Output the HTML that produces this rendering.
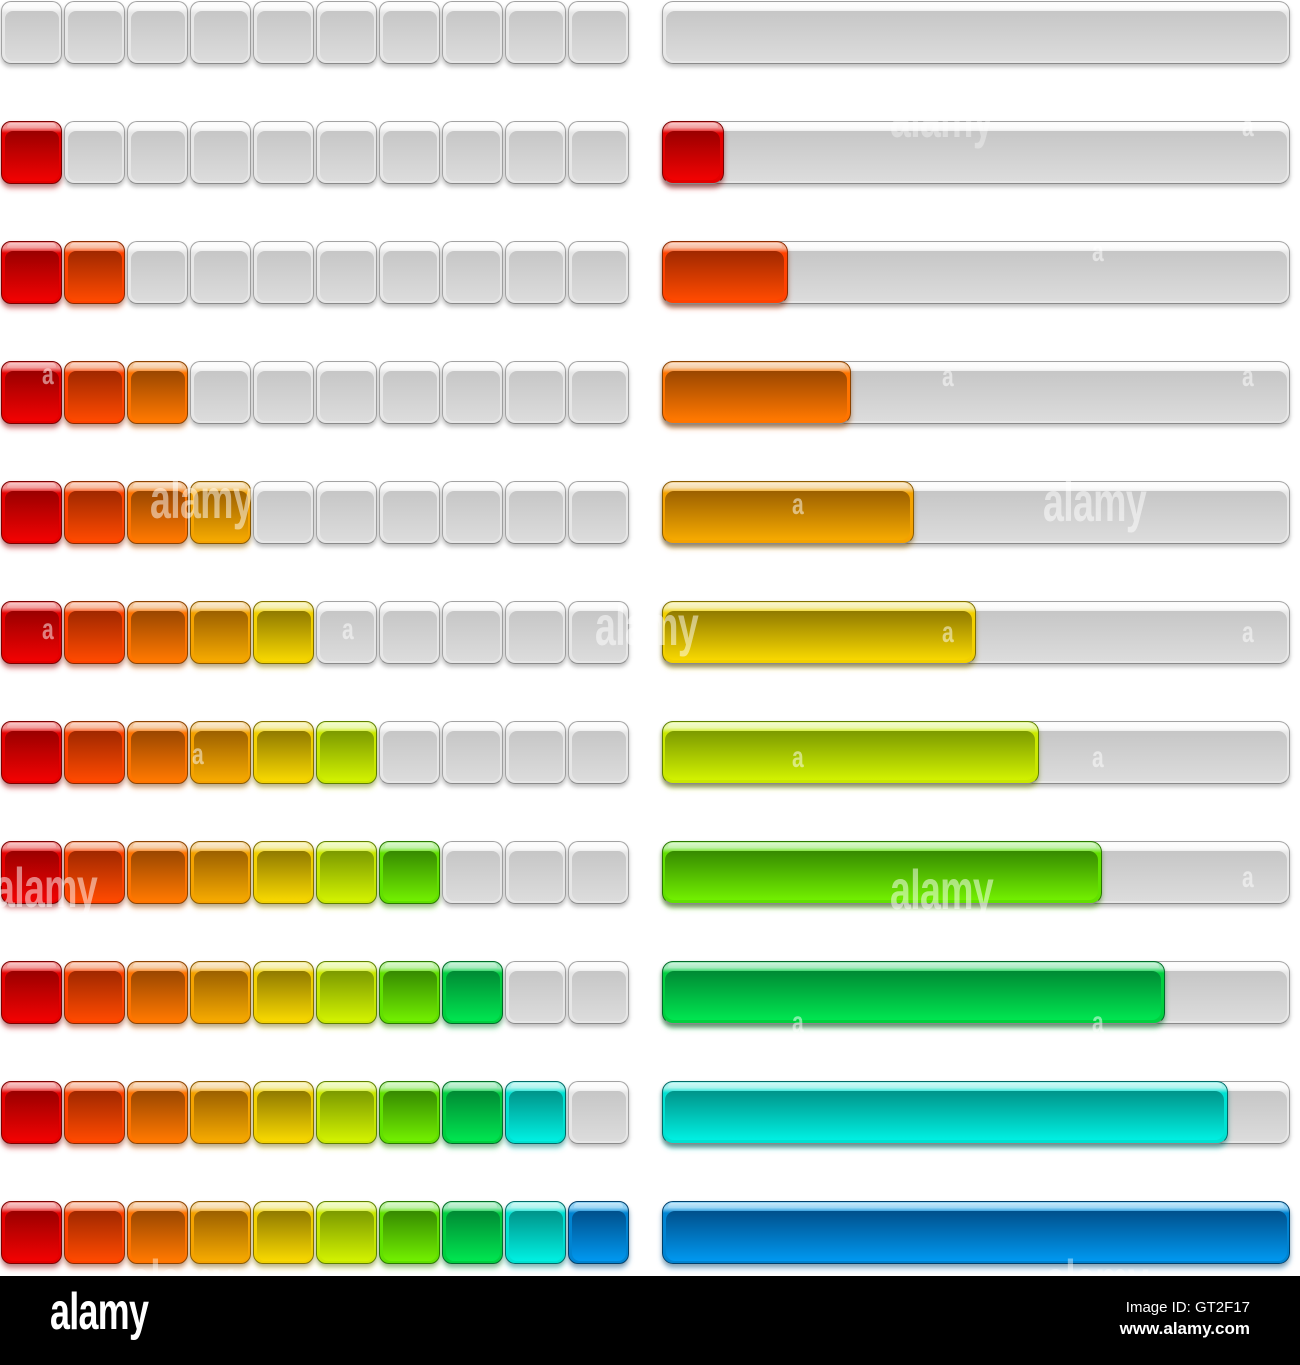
<!DOCTYPE html>
<html><head><meta charset="utf-8">
<style>
html,body{margin:0;padding:0}
body{width:1300px;height:1365px;background:#fff;position:relative;overflow:hidden;font-family:"Liberation Sans",sans-serif}
.row{position:absolute;left:1px;display:flex;gap:2px}
.row i{display:block;position:relative;width:61px;height:63px}
.k{box-sizing:border-box;border:1.5px solid var(--b);border-bottom-color:var(--bb,var(--b));border-radius:10px;
background:linear-gradient(180deg,var(--h) 0px,var(--h) 6px,var(--o) 11px,var(--o) 100%);
box-shadow:0 3px 4px rgba(0,0,0,.26),0 5px 6px var(--gl)}
.k::before{content:"";position:absolute;left:2.5px;right:2.5px;top:9px;bottom:2.5px;border-radius:8px;background:linear-gradient(180deg,var(--t) 0%,var(--bt) 100%)}
.k::after{content:"";position:absolute;left:5px;right:5px;top:1px;height:5px;border-radius:6px 6px 3px 3px;background:linear-gradient(rgba(255,255,255,.5),rgba(255,255,255,.1))}
.g{--b:#a2a2a2;--bb:#8a8a8a;--h:#fafafa;--o:#e6e6e6;--t:#c6c6c6;--bt:#dcdcdc;--gl:rgba(0,0,0,0)}
.c1{--b:#7a0000;--h:#f09090;--o:#e40000;--t:#9a0000;--bt:#f20202;--gl:rgba(230,0,0,.30)}
.c2{--b:#8a2a00;--h:#f6ae90;--o:#ff4200;--t:#a02800;--bt:#ff4a00;--gl:rgba(255,70,0,.28)}
.c3{--b:#8a4200;--h:#f4c496;--o:#ff7400;--t:#9a4600;--bt:#ff7800;--gl:rgba(255,120,0,.30)}
.c4{--b:#8a5a00;--h:#f4d6a0;--o:#f4a200;--t:#9c6000;--bt:#f6aa00;--gl:rgba(240,160,0,.28)}
.c5{--b:#807000;--h:#f4ec9e;--o:#f2d000;--t:#907a00;--bt:#f8d800;--gl:rgba(240,210,0,.28)}
.c6{--b:#5e8000;--h:#e8f8a0;--o:#cae800;--t:#7c9a00;--bt:#d2f200;--gl:rgba(200,235,0,.28)}
.c7{--b:#2a7800;--h:#b8f09c;--o:#62e000;--t:#368a00;--bt:#72f000;--gl:rgba(100,230,0,.28)}
.c8{--b:#006a28;--h:#9ae8b6;--o:#00d040;--t:#008a34;--bt:#00e650;--gl:rgba(0,210,70,.28)}
.c9{--b:#006a66;--h:#a0f2ec;--o:#00e2d2;--t:#00948a;--bt:#00f0e2;--gl:rgba(0,220,210,.30)}
.c10{--b:#003f6a;--h:#8ed0f4;--o:#0084d2;--t:#00508c;--bt:#0098f0;--gl:rgba(0,130,210,.30)}
.bar{position:absolute;left:662px;width:628px;height:63px;border-radius:11px}
.bar.k::before{border-radius:9px}
.fill{position:absolute;left:-1.5px;top:-1.5px;height:63px;border-radius:11px;z-index:2}
.fill.k::before{border-radius:9px}
.wm{position:absolute;font-weight:bold;color:rgba(255,255,255,.5);font-size:56px;line-height:1;transform:scaleX(.67);transform-origin:left top;letter-spacing:-1px;white-space:nowrap;z-index:5}
.sa{position:absolute;font-weight:bold;color:rgba(255,255,255,.5);font-size:30px;line-height:1;transform:scaleX(.7);transform-origin:left top;z-index:5}
.ban{position:absolute;left:0;top:1276px;width:1300px;height:89px;background:#000;z-index:10}
.logo{position:absolute;left:50px;top:1286px;font-weight:bold;font-size:52px;line-height:1;color:#fff;transform:scaleX(.69);transform-origin:left top;letter-spacing:-1px;z-index:11;white-space:nowrap}
.id{position:absolute;right:50px;top:1300px;font-size:15px;line-height:1;color:#fff;z-index:11;white-space:nowrap}
.www{position:absolute;right:50px;top:1320px;font-size:17px;font-weight:bold;line-height:1;color:#fff;z-index:11;white-space:nowrap}
</style></head><body>

<div class="row" style="top:1px"><i class="k g"></i><i class="k g"></i><i class="k g"></i><i class="k g"></i><i class="k g"></i><i class="k g"></i><i class="k g"></i><i class="k g"></i><i class="k g"></i><i class="k g"></i></div>
<div class="row" style="top:121px"><i class="k c1"></i><i class="k g"></i><i class="k g"></i><i class="k g"></i><i class="k g"></i><i class="k g"></i><i class="k g"></i><i class="k g"></i><i class="k g"></i><i class="k g"></i></div>
<div class="row" style="top:241px"><i class="k c1"></i><i class="k c2"></i><i class="k g"></i><i class="k g"></i><i class="k g"></i><i class="k g"></i><i class="k g"></i><i class="k g"></i><i class="k g"></i><i class="k g"></i></div>
<div class="row" style="top:361px"><i class="k c1"></i><i class="k c2"></i><i class="k c3"></i><i class="k g"></i><i class="k g"></i><i class="k g"></i><i class="k g"></i><i class="k g"></i><i class="k g"></i><i class="k g"></i></div>
<div class="row" style="top:481px"><i class="k c1"></i><i class="k c2"></i><i class="k c3"></i><i class="k c4"></i><i class="k g"></i><i class="k g"></i><i class="k g"></i><i class="k g"></i><i class="k g"></i><i class="k g"></i></div>
<div class="row" style="top:601px"><i class="k c1"></i><i class="k c2"></i><i class="k c3"></i><i class="k c4"></i><i class="k c5"></i><i class="k g"></i><i class="k g"></i><i class="k g"></i><i class="k g"></i><i class="k g"></i></div>
<div class="row" style="top:721px"><i class="k c1"></i><i class="k c2"></i><i class="k c3"></i><i class="k c4"></i><i class="k c5"></i><i class="k c6"></i><i class="k g"></i><i class="k g"></i><i class="k g"></i><i class="k g"></i></div>
<div class="row" style="top:841px"><i class="k c1"></i><i class="k c2"></i><i class="k c3"></i><i class="k c4"></i><i class="k c5"></i><i class="k c6"></i><i class="k c7"></i><i class="k g"></i><i class="k g"></i><i class="k g"></i></div>
<div class="row" style="top:961px"><i class="k c1"></i><i class="k c2"></i><i class="k c3"></i><i class="k c4"></i><i class="k c5"></i><i class="k c6"></i><i class="k c7"></i><i class="k c8"></i><i class="k g"></i><i class="k g"></i></div>
<div class="row" style="top:1081px"><i class="k c1"></i><i class="k c2"></i><i class="k c3"></i><i class="k c4"></i><i class="k c5"></i><i class="k c6"></i><i class="k c7"></i><i class="k c8"></i><i class="k c9"></i><i class="k g"></i></div>
<div class="row" style="top:1201px"><i class="k c1"></i><i class="k c2"></i><i class="k c3"></i><i class="k c4"></i><i class="k c5"></i><i class="k c6"></i><i class="k c7"></i><i class="k c8"></i><i class="k c9"></i><i class="k c10"></i></div>

<div class="bar k g" style="top:1px"></div>
<div class="bar k g" style="top:121px"><div class="fill k c1" style="width:62px"></div></div>
<div class="bar k g" style="top:241px"><div class="fill k c2" style="width:126px"></div></div>
<div class="bar k g" style="top:361px"><div class="fill k c3" style="width:189px"></div></div>
<div class="bar k g" style="top:481px"><div class="fill k c4" style="width:252px"></div></div>
<div class="bar k g" style="top:601px"><div class="fill k c5" style="width:314px"></div></div>
<div class="bar k g" style="top:721px"><div class="fill k c6" style="width:377px"></div></div>
<div class="bar k g" style="top:841px"><div class="fill k c7" style="width:440px"></div></div>
<div class="bar k g" style="top:961px"><div class="fill k c8" style="width:503px"></div></div>
<div class="bar k g" style="top:1081px"><div class="fill k c9" style="width:566px"></div></div>
<div class="bar k c10" style="top:1201px"></div>

<div class="wm" style="left:150px;top:471px">alamy</div>
<div class="wm" style="left:1043px;top:474px">alamy</div>
<div class="wm" style="left:595px;top:598px">alamy</div>
<div class="wm" style="left:-6px;top:860px">alamy</div>
<div class="wm" style="left:890px;top:862px">alamy</div>
<div class="wm" style="left:890px;top:90px;color:rgba(255,255,255,.35)">alamy</div>
<div class="wm" style="left:130px;top:1252px;color:rgba(255,255,255,.4)">alamy</div>
<div class="wm" style="left:1045px;top:1252px;color:rgba(255,255,255,.4)">alamy</div>

<div class="sa" style="left:42px;top:360px">a</div>
<div class="sa" style="left:942px;top:362px">a</div>
<div class="sa" style="left:1242px;top:362px">a</div>
<div class="sa" style="left:1092px;top:237px">a</div>
<div class="sa" style="left:1242px;top:112px">a</div>
<div class="sa" style="left:792px;top:490px">a</div>
<div class="sa" style="left:42px;top:615px">a</div>
<div class="sa" style="left:342px;top:615px">a</div>
<div class="sa" style="left:942px;top:618px">a</div>
<div class="sa" style="left:1242px;top:618px">a</div>
<div class="sa" style="left:192px;top:740px">a</div>
<div class="sa" style="left:792px;top:743px">a</div>
<div class="sa" style="left:1092px;top:743px">a</div>
<div class="sa" style="left:1242px;top:863px">a</div>
<div class="sa" style="left:792px;top:1008px">a</div>
<div class="sa" style="left:1092px;top:1008px">a</div>

<div class="ban"></div>
<div class="logo">alamy</div>
<div class="id">Image ID: GT2F17</div>
<div class="www">www.alamy.com</div>
</body></html>
